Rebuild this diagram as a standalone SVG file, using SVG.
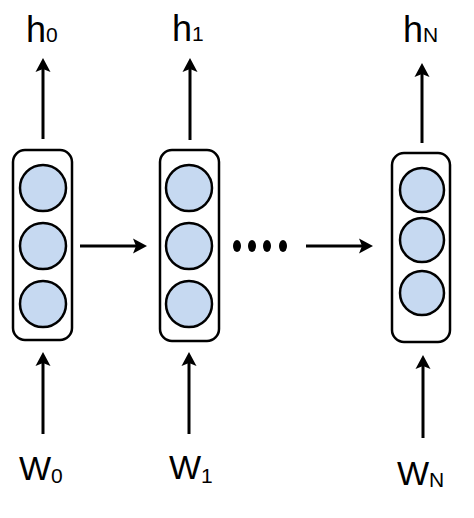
<svg xmlns="http://www.w3.org/2000/svg" width="474" height="518" viewBox="0 0 474 518">
  <style>
    .cell { fill: #ffffff; stroke: #000000; stroke-width: 2.5; }
    .unit { fill: #c6d9f1; stroke: #000000; stroke-width: 2.5; }
    .conn { fill: none; stroke: #000000; stroke-width: 3; marker-end: url(#arrow); }
    .lbl { font-family: "Liberation Sans", Arial, Helvetica, sans-serif; fill: #000000; }
    .big { font-size: 36px; }
    .bigw { font-size: 34px; }
    .sub { font-size: 21px; }
    .dot { fill: #000000; }
  </style>
  <defs>
    <marker id="arrow" markerUnits="userSpaceOnUse" markerWidth="16" markerHeight="16" viewBox="0 -8 16 16" refX="4" refY="0" orient="auto" overflow="visible">
      <path d="M14,0 L0,-7.5 L3,0 L0,7.5 Z" fill="#000000"/>
    </marker>
  </defs>
  <rect width="474" height="518" fill="#ffffff"/>

  <g id="connectors">
    <path class="conn" d="M43,139 V68"/>
    <path class="conn" d="M190,140 V68"/>
    <path class="conn" d="M422,143 V73"/>
    <path class="conn" d="M43,434 V362"/>
    <path class="conn" d="M189,434 V362"/>
    <path class="conn" d="M423,438 V365"/>
    <path class="conn" d="M80,246 H137"/>
    <path class="conn" d="M306,246 H363"/>
  </g>

  <g id="cell0">
    <rect class="cell" x="13" y="150" width="59" height="190" rx="12"/>
    <circle class="unit" cx="43" cy="188" r="23"/>
    <circle class="unit" cx="43" cy="246" r="23"/>
    <circle class="unit" cx="43" cy="304" r="23"/>
  </g>
  <g id="cell1">
    <rect class="cell" x="160" y="150" width="59" height="191" rx="12"/>
    <circle class="unit" cx="189" cy="188" r="23"/>
    <circle class="unit" cx="189" cy="246" r="23"/>
    <circle class="unit" cx="189" cy="304" r="23"/>
  </g>
  <g id="cellN">
    <rect class="cell" x="392" y="153" width="58" height="189" rx="12"/>
    <circle class="unit" cx="422" cy="190" r="22"/>
    <circle class="unit" cx="422" cy="240" r="22"/>
    <circle class="unit" cx="422" cy="293" r="22"/>
  </g>

  <g id="ellipsis">
    <ellipse class="dot" cx="237" cy="246" rx="4" ry="6"/>
    <ellipse class="dot" cx="252" cy="246" rx="4" ry="6"/>
    <ellipse class="dot" cx="267" cy="246" rx="4" ry="6"/>
    <ellipse class="dot" cx="283" cy="246" rx="4" ry="6"/>
  </g>

  <g id="label-h0">
    <text class="lbl" x="26" y="42"><tspan class="big">h</tspan><tspan class="sub">0</tspan></text>
  </g>
  <g id="label-h1">
    <text class="lbl" x="172" y="41"><tspan class="big">h</tspan><tspan class="sub">1</tspan></text>
  </g>
  <g id="label-hN">
    <text class="lbl" x="403" y="42"><tspan class="big">h</tspan><tspan class="sub">N</tspan></text>
  </g>
  <g id="label-w0">
    <text class="lbl" x="19" y="480"><tspan class="bigw">W</tspan><tspan class="sub" dy="3">0</tspan></text>
  </g>
  <g id="label-w1">
    <text class="lbl" x="169" y="479"><tspan class="bigw">W</tspan><tspan class="sub" dy="4">1</tspan></text>
  </g>
  <g id="label-wN">
    <text class="lbl" x="397" y="485"><tspan class="bigw">W</tspan><tspan class="sub" dy="2">N</tspan></text>
  </g>
</svg>
